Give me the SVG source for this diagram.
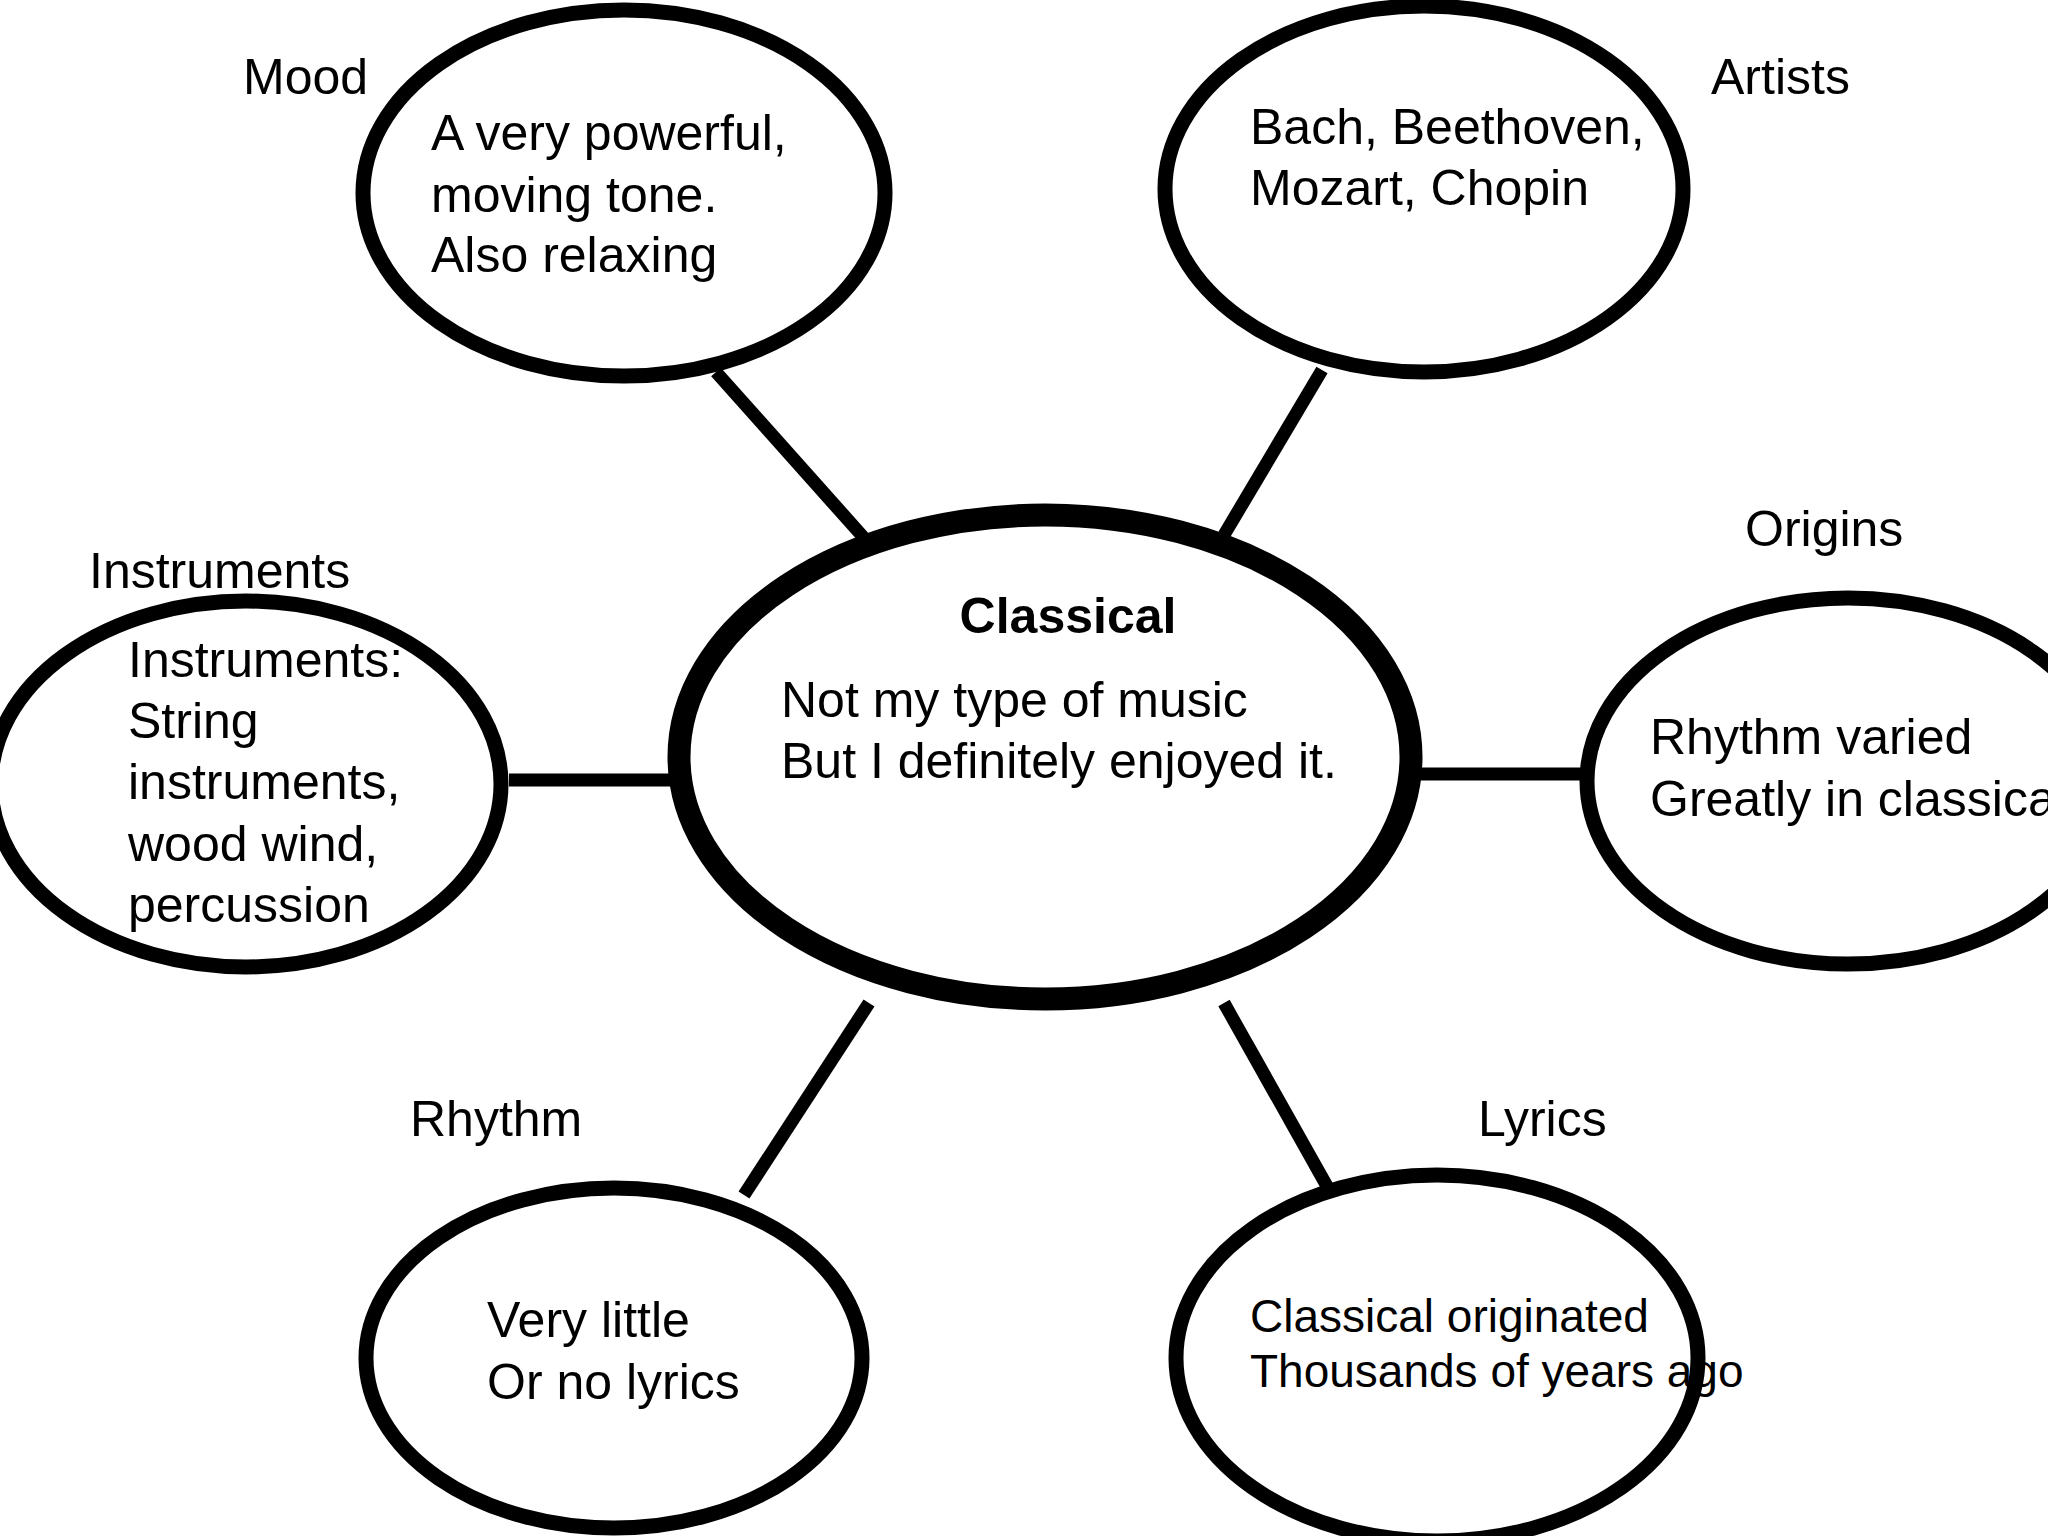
<svg xmlns="http://www.w3.org/2000/svg" width="2048" height="1536" viewBox="0 0 2048 1536">
<style>
.n{fill:#fff;stroke:#000;stroke-width:15}
.t{font-family:"Liberation Sans",Arial,sans-serif;font-size:50px;fill:#000}
.s{font-size:46px}
.c{stroke:#000;stroke-width:13;fill:none}
</style>
<rect width="2048" height="1536" fill="#fff"/>
<g id="connectors">
<line class="c" x1="716" y1="372" x2="865" y2="539"/>
<line class="c" x1="1322" y1="370" x2="1224" y2="535"/>
<line class="c" x1="509" y1="780" x2="677" y2="780"/>
<line class="c" x1="1417" y1="774" x2="1585" y2="774"/>
<line class="c" x1="869" y1="1003" x2="744" y2="1195"/>
<line class="c" x1="1224" y1="1003" x2="1328" y2="1188"/>
</g>
<g id="center">
<ellipse class="n" cx="1045" cy="757" rx="366" ry="242" style="stroke-width:23"/>
<text class="t" x="1068" y="633" text-anchor="middle" font-weight="bold">Classical</text>
<text class="t" x="781" y="717">Not my type of music</text>
<text class="t" x="781" y="778">But I definitely enjoyed it.</text>
</g>
<g id="mood">
<ellipse class="n" cx="624" cy="193" rx="261" ry="183"/>
<text class="t" x="243" y="94">Mood</text>
<text class="t" x="431" y="150">A very powerful,</text>
<text class="t" x="431" y="212">moving tone.</text>
<text class="t" x="431" y="272">Also relaxing</text>
</g>
<g id="artists">
<ellipse class="n" cx="1424" cy="189" rx="259" ry="183"/>
<text class="t" x="1711" y="94">Artists</text>
<text class="t" x="1250" y="144">Bach, Beethoven,</text>
<text class="t" x="1250" y="205">Mozart, Chopin</text>
</g>
<g id="instruments">
<ellipse class="n" cx="246" cy="784" rx="255" ry="183"/>
<text class="t" x="89" y="588">Instruments</text>
<text class="t" x="128" y="677">Instruments:</text>
<text class="t" x="128" y="738">String</text>
<text class="t" x="128" y="799">instruments,</text>
<text class="t" x="128" y="861">wood wind,</text>
<text class="t" x="128" y="922">percussion</text>
</g>
<g id="origins">
<ellipse class="n" cx="1848" cy="781" rx="261" ry="183"/>
<text class="t" x="1745" y="546">Origins</text>
<text class="t" x="1650" y="754">Rhythm varied</text>
<text class="t" x="1650" y="816">Greatly in classical</text>
</g>
<g id="rhythm">
<ellipse class="n" cx="614" cy="1358" rx="248" ry="170"/>
<text class="t" x="410" y="1136">Rhythm</text>
<text class="t" x="487" y="1337">Very little</text>
<text class="t" x="487" y="1399">Or no lyrics</text>
</g>
<g id="lyrics">
<ellipse class="n" cx="1437" cy="1358" rx="261" ry="183"/>
<text class="t" x="1478" y="1136">Lyrics</text>
<text class="t s" x="1250" y="1332">Classical originated</text>
<text class="t s" x="1250" y="1387">Thousands of years ago</text>
</g>
</svg>
